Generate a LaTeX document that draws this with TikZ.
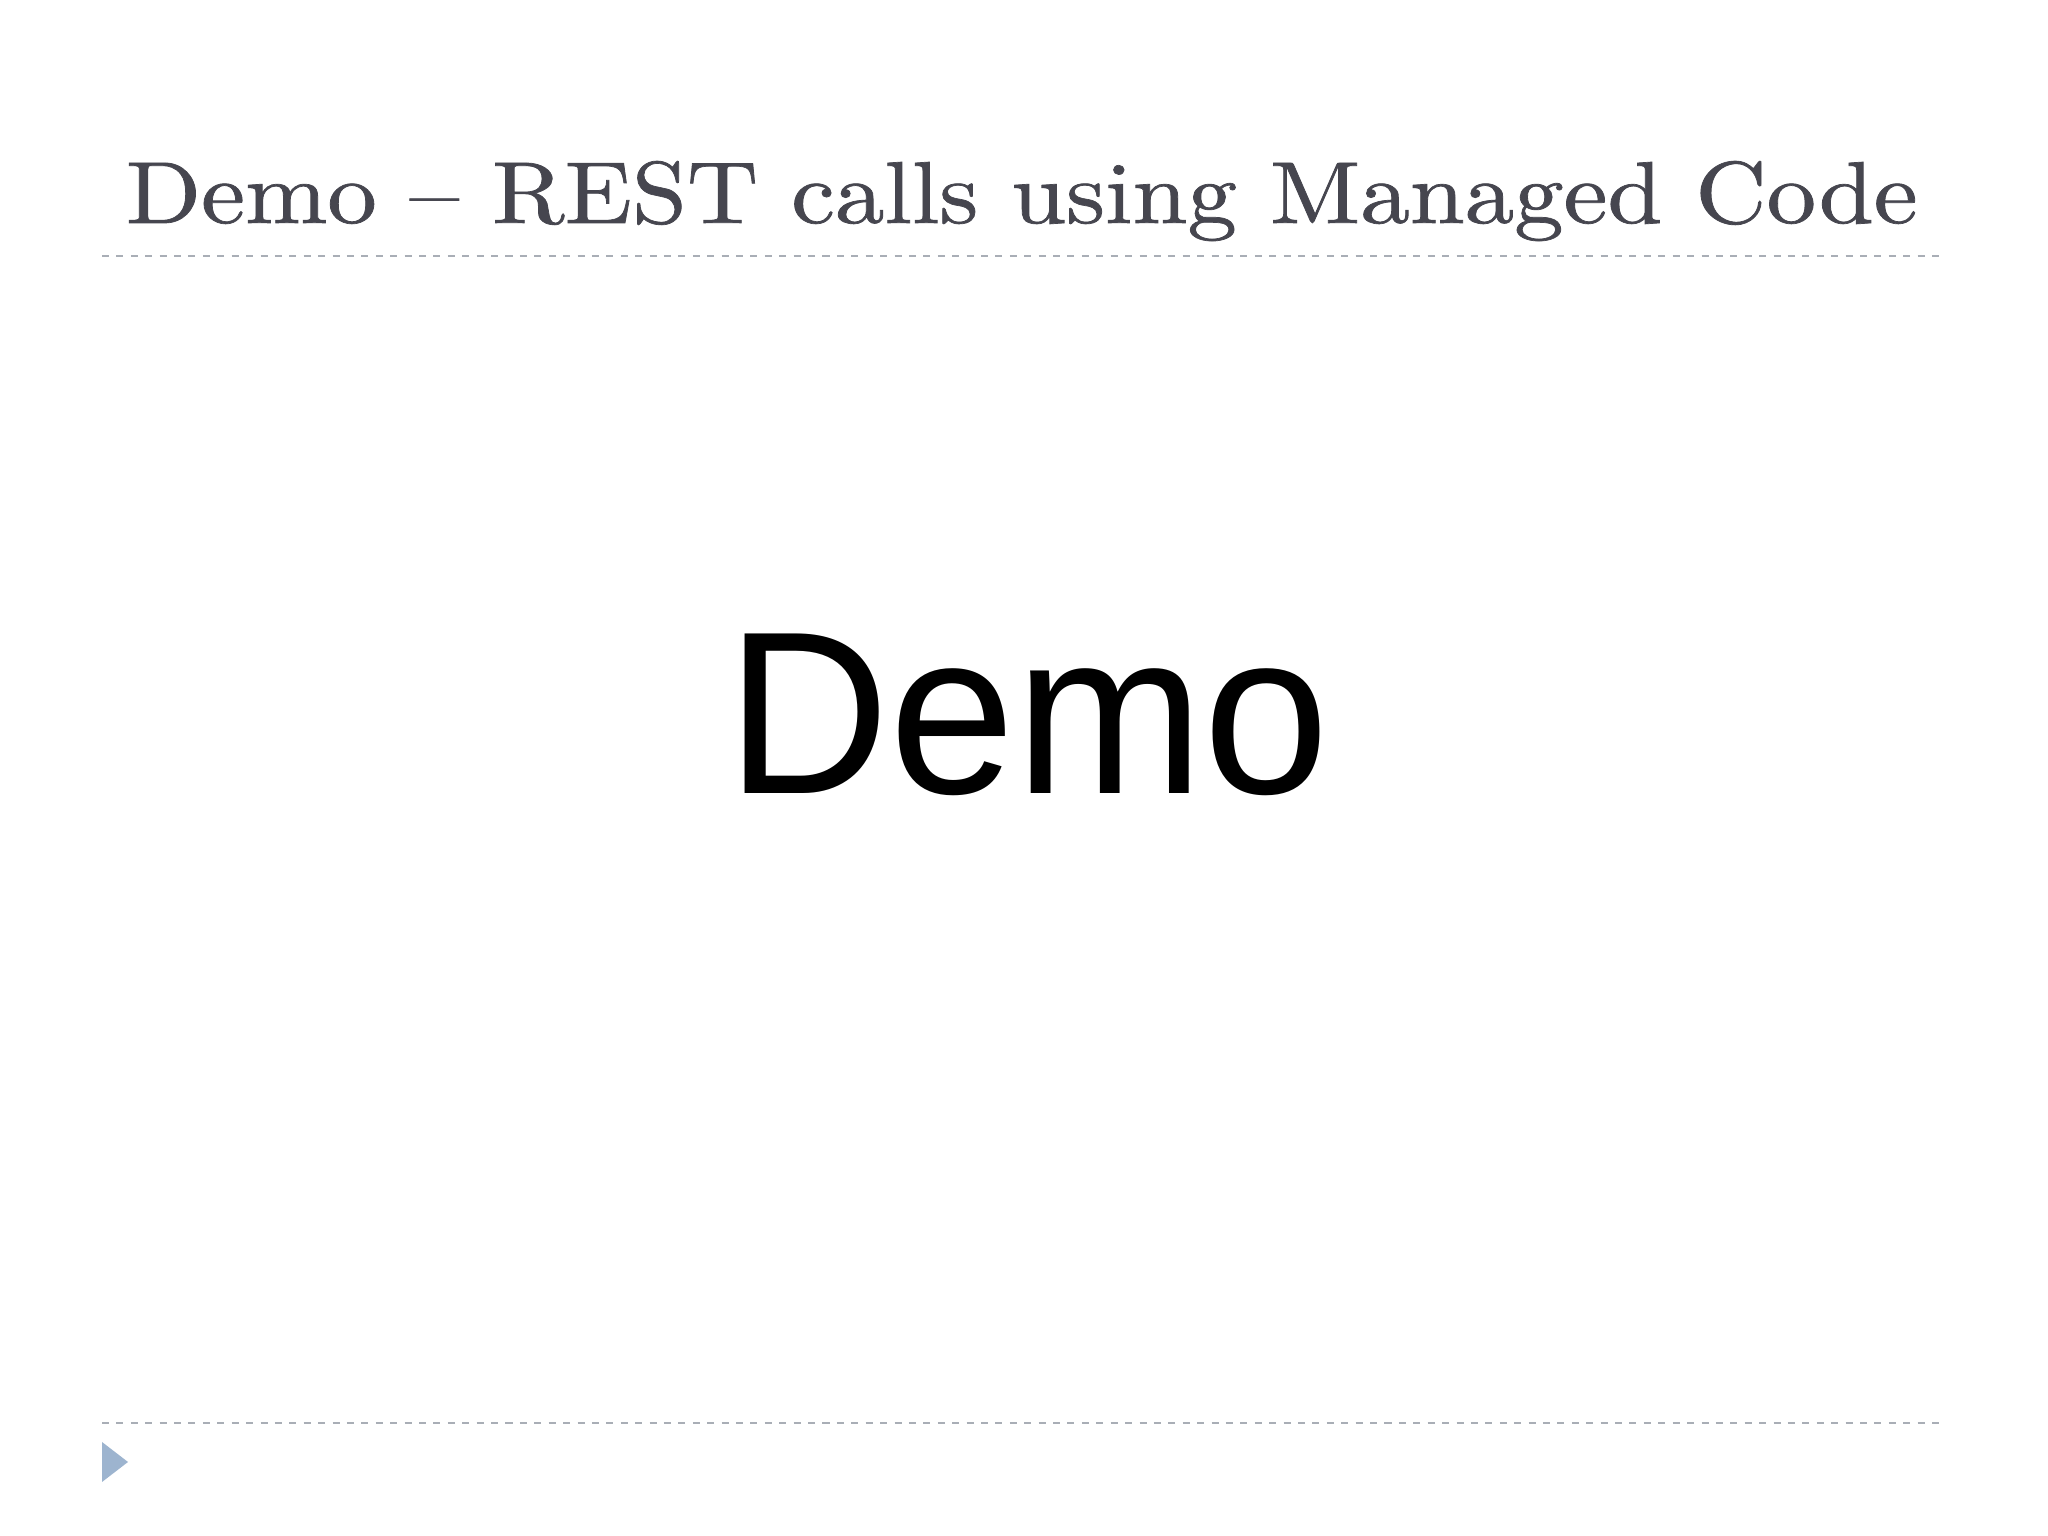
\documentclass[tikz,border=0pt]{standalone}
\usepackage{fontspec}
\newfontfamily\arialfont{Liberation Sans}
\newfontfamily\titlefont{lmroman10-regular.otf}[FakeBold=0.8]
\definecolor{titlegray}{HTML}{46464F}
\definecolor{rulegray}{HTML}{A9AEB6}
\definecolor{tribule}{HTML}{9DB4CF}
\tikzset{
  rulestyle/.style={draw=rulegray, line width=0.6pt, dash pattern=on 2pt off 2.1pt},
  titlestyle/.style={anchor=base west, inner sep=0pt, text=titlegray, font=\titlefont\fontsize{25}{30}\selectfont},
  bigstyle/.style={anchor=base, inner sep=0pt, text=black, font=\arialfont\fontsize{66}{79}\selectfont}
}
\begin{document}
\begin{tikzpicture}
\useasboundingbox[fill=white] (0,0) rectangle (20.48,15.36);
\node[titlestyle] (title) at (1.25,13.13) {\resizebox{17.92cm}{\height}{Demo – REST calls using Managed Code}};
\coordinate (tl) at (1.02,12.80);
\coordinate (tr) at (19.45,12.80);
\draw[rulestyle] (tl) -- (tr);
\node[bigstyle] (demo) at (10.28,7.42) {\scalebox{0.976}[1]{Demo}};
\coordinate (bl) at (1.02,1.13);
\coordinate (br) at (19.45,1.13);
\draw[rulestyle] (bl) -- (br);
\fill[tribule] (1.02,0.94) -- (1.28,0.74) -- (1.02,0.54) -- cycle;
\end{tikzpicture}
\end{document}
